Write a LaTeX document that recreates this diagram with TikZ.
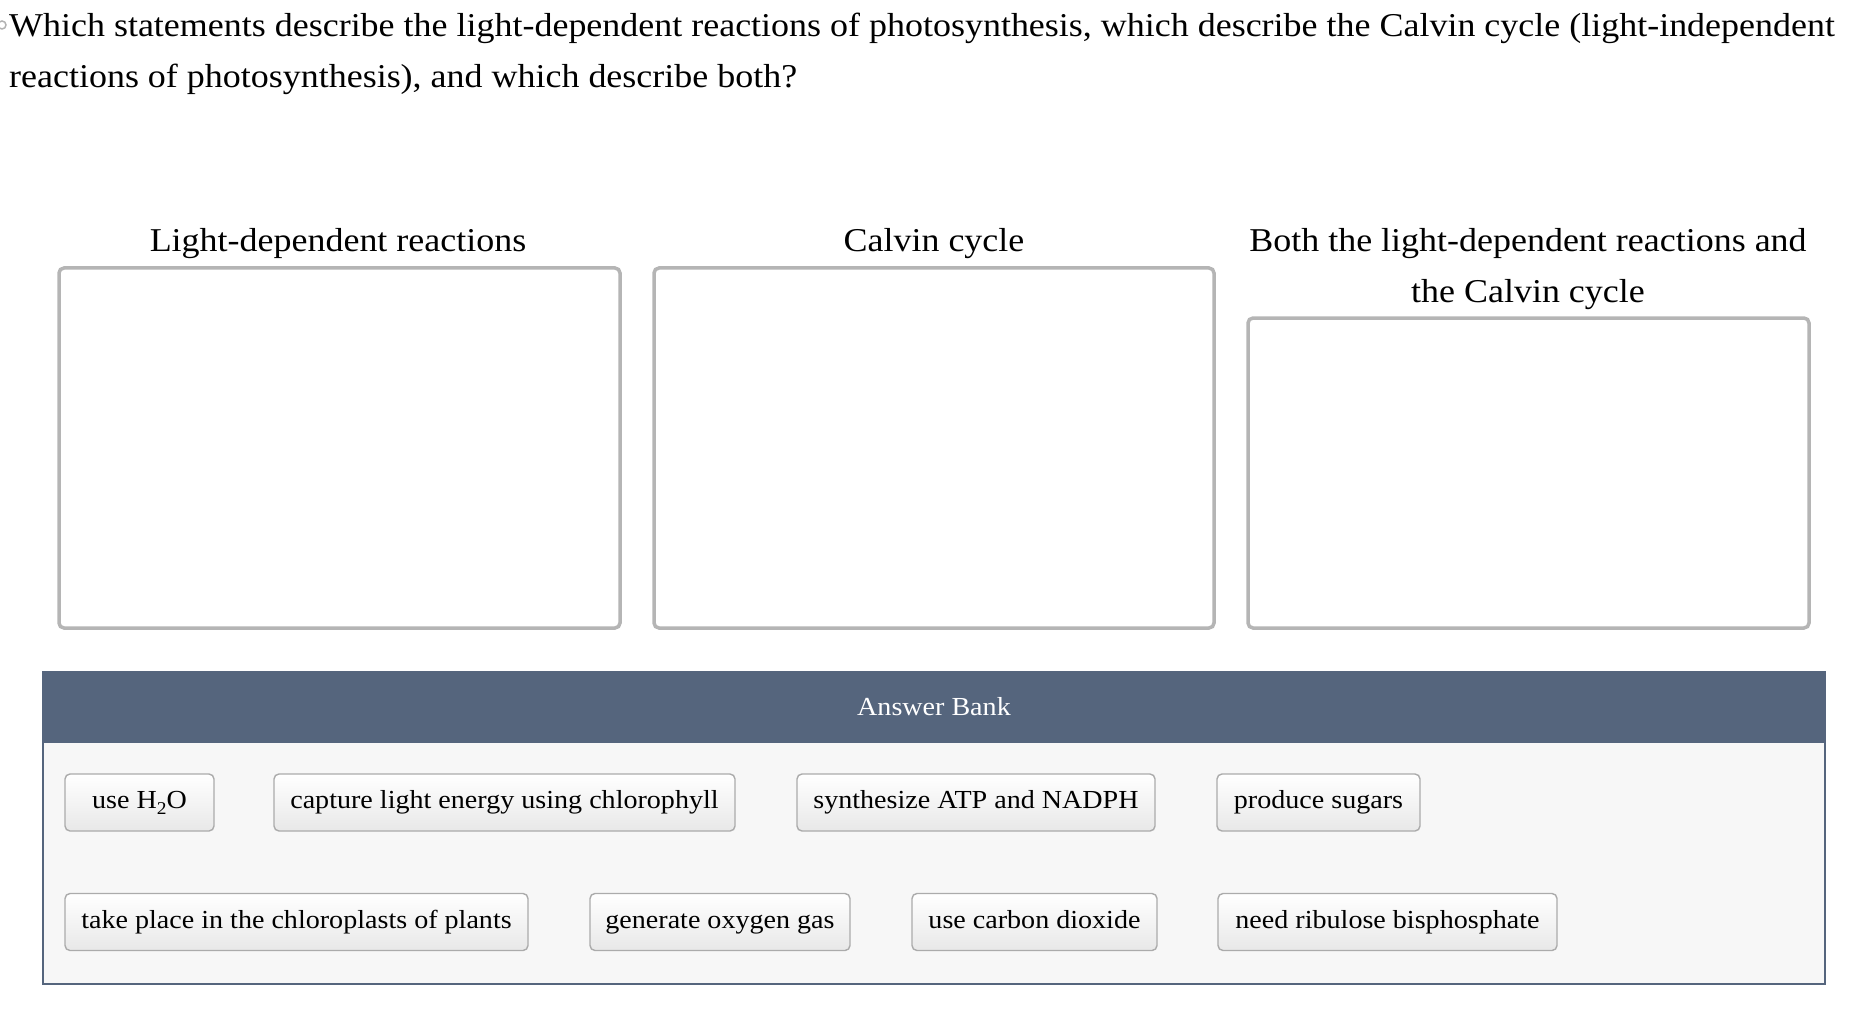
\documentclass[tikz,border=0pt]{standalone}
\usepackage{fontspec}
\setmainfont{Liberation Serif}[FakeStretch=1.08]
\definecolor{boxgray}{HTML}{B5B5B5}
\definecolor{slate}{HTML}{55657D}
\definecolor{bankbg}{HTML}{F7F7F7}
\definecolor{btnline}{HTML}{ABABAB}
\newcommand{\subtwo}{\raisebox{-0.5ex}{\fontsize{18}{18}\selectfont 2}}
\tikzset{
  titletext/.style={font=\fontsize{33.3}{50}\selectfont, inner sep=0pt},
  headtext/.style={font=\fontsize{33.3}{50}\selectfont, inner sep=0pt, align=center},
  dropbox/.style={draw=boxgray, line width=3.5pt, rounded corners=5pt, fill=white},
  btn/.style={draw=btnline, line width=1.4pt, rounded corners=5pt, top color=white, bottom color=black!9,
    font=\fontsize{26}{30}\selectfont, text height=18pt, text depth=6pt, inner sep=0pt, minimum height=57pt, anchor=center},
}
\begin{document}
\begin{tikzpicture}[x=1pt,y=-1pt]
\useasboundingbox (0,0) rectangle (1862,1016);
% left edge artefact
\draw[gray!60, line width=1.5pt] (2,25) circle (4);
% question
\node[titletext, anchor=base west] (q1) at (9,37) {Which statements describe the light-dependent reactions of photosynthesis, which describe the Calvin cycle (light-independent};
\node[titletext, anchor=base west] (q2) at (9,88) {reactions of photosynthesis), and which describe both?};
% headings
\node[headtext, anchor=base] (h1) at (338,252) {Light-dependent reactions};
\node[headtext, anchor=base] (h2) at (934,252) {Calvin cycle};
\node[headtext, anchor=base] (h3) at (1528,252) {Both the light-dependent reactions and};
\node[headtext, anchor=base] (h3b) at (1528,302) {the Calvin cycle};
% drop boxes
\draw[dropbox] (59,268) rectangle (620,628);
\draw[dropbox] (654,268) rectangle (1214,628);
\draw[dropbox] (1248,318) rectangle (1809,628);
% answer bank
\fill[bankbg] (43,742) rectangle (1825,984);
\draw[slate, line width=2pt] (43,742) -- (43,984) -- (1825,984) -- (1825,742);
\fill[slate] (42,671) rectangle (1826,743);
\node[font=\fontsize{26}{30}\selectfont, text=white, inner sep=0pt] (bank) at (934,707) {Answer Bank};
% buttons row 1
\node[btn, minimum width=149pt] (b1) at (139.5,802.5) {use H\subtwo O};
\node[btn, minimum width=461pt] (b2) at (504.5,802.5) {capture light energy using chlorophyll};
\node[btn, minimum width=358pt] (b3) at (976,802.5) {synthesize ATP and NADPH};
\node[btn, minimum width=203pt] (b4) at (1318.5,802.5) {produce sugars};
% buttons row 2
\node[btn, minimum width=463pt] (b5) at (296.5,922) {take place in the chloroplasts of plants};
\node[btn, minimum width=260pt] (b6) at (720,922) {generate oxygen gas};
\node[btn, minimum width=245pt] (b7) at (1034.5,922) {use carbon dioxide};
\node[btn, minimum width=339pt] (b8) at (1387.5,922) {need ribulose bisphosphate};
\end{tikzpicture}
\end{document}
